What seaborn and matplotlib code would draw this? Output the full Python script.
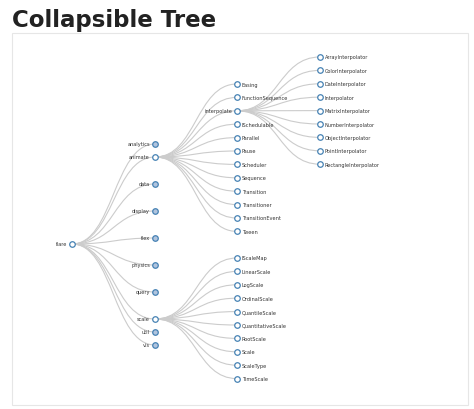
import matplotlib
matplotlib.use("Agg")
import matplotlib.pyplot as plt
import seaborn as sns
import pandas as pd
import numpy as np
from matplotlib.path import Path
from matplotlib.patches import PathPatch, Rectangle

root = "flare"
level1 = ["analytics", "animate", "data", "display", "flex", "physics", "query", "scale", "util", "vis"]
level1_collapsed = [True, False, True, True, True, True, True, False, True, True]
animate_children = ["Easing", "FunctionSequence", "interpolate", "ISchedulable", "Parallel", "Pause",
                    "Scheduler", "Sequence", "Transition", "Transitioner", "TransitionEvent", "Tween"]
scale_children = ["IScaleMap", "LinearScale", "LogScale", "OrdinalScale", "QuantileScale",
                  "QuantitativeScale", "RootScale", "Scale", "ScaleType", "TimeScale"]
interpolate_children = ["ArrayInterpolator", "ColorInterpolator", "DateInterpolator", "Interpolator",
                        "MatrixInterpolator", "NumberInterpolator", "ObjectInterpolator",
                        "PointInterpolator", "RectangleInterpolator"]

# layout (pixel coordinates)
X = [72, 155, 237, 320]
y1 = [145, 158, 185, 212, 239, 266, 293, 320, 333, 346]
def spaced(start, n, step=13.4):
    return [start + i * step for i in range(n)]

nodes = []
nodes.append((root, X[0], 245, None, True, False))
for n, y, c in zip(level1, y1, level1_collapsed):
    nodes.append((n, X[1], y, (X[0], 245), not c, c))
anim_xy = (X[1], y1[1]); scale_xy = (X[1], y1[7])
for n, y in zip(animate_children, spaced(85, 12)):
    nodes.append((n, X[2], y, anim_xy, n == "interpolate", False))
for n, y in zip(scale_children, spaced(259, 10)):
    nodes.append((n, X[2], y, scale_xy, False, False))
interp_xy = (X[2], 85 + 2 * 13.4)
for n, y in zip(interpolate_children, spaced(58, 9)):
    nodes.append((n, X[3], y, interp_xy, False, False))

df = pd.DataFrame(nodes, columns=["label", "x", "y", "parent", "expanded", "collapsed"])

fig = plt.figure(figsize=(4.74, 4.10), dpi=100)
ax = fig.add_axes([0, 0, 1, 1])

ax.add_patch(Rectangle((12, 34), 456, 372, fill=False, ec="#e6e6e6", lw=0.8))
ax.text(12, 21, "Collapsible Tree", fontsize=16.5, fontweight="bold", va="center", ha="left", color="#222")

for _, r in df.iterrows():
    if r["parent"] is None:
        continue
    px, py = r["parent"]
    mx = (px + r["x"]) / 2
    path = Path([(px, py), (mx, py), (mx, r["y"]), (r["x"], r["y"])],
                [Path.MOVETO, Path.CURVE4, Path.CURVE4, Path.CURVE4])
    ax.add_patch(PathPatch(path, fc="none", ec="#cccccc", lw=0.8, zorder=1))

df["fill"] = np.where(df["collapsed"], "#b0c4de", "#ffffff")
for fill, sub in df.groupby("fill"):
    sns.scatterplot(data=sub, x="x", y="y", ax=ax, s=16, color=fill, edgecolor="#4682b4",
                    linewidth=0.9, zorder=3, legend=False)
ax.set_xlim(0, 474); ax.set_ylim(410, 0); ax.axis("off")

for _, r in df.iterrows():
    if r["x"] <= X[1] or r["expanded"]:
        ax.text(r["x"] - 5, r["y"], r["label"], ha="right", va="center", fontsize=3.6, color="#333")
    else:
        ax.text(r["x"] + 5, r["y"], r["label"], ha="left", va="center", fontsize=3.6, color="#333")

fig.savefig("out.png", dpi=100, facecolor="white")
